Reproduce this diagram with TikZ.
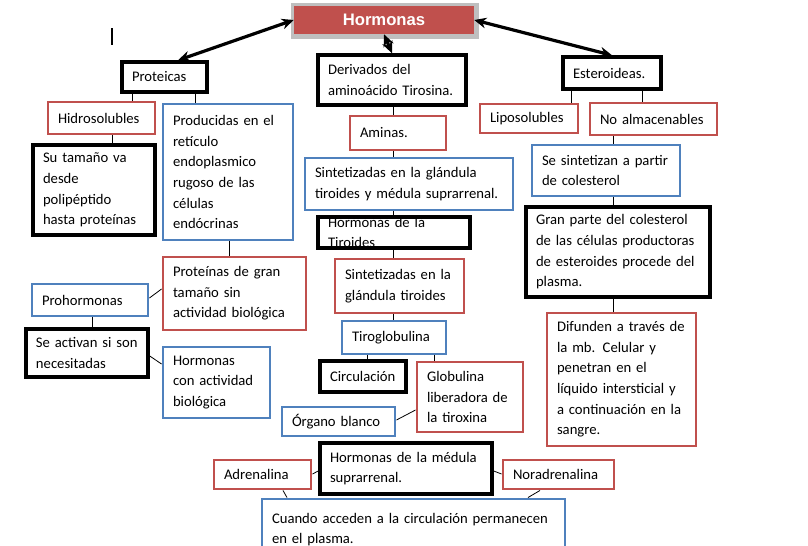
\documentclass[tikz,border=0pt]{standalone}
\usepackage{fontspec}
\setmainfont{Carlito}
\newfontfamily\arialb{Liberation Sans}
\usetikzlibrary{arrows.meta}
\definecolor{cred}{HTML}{C0504D}
\definecolor{cblue}{HTML}{4F81BD}
\tikzset{
  base/.style={fill=white, inner sep=0pt, align=left, font=\fontsize{11}{15.5}\selectfont},
  rbox/.style={base, draw=cred, line width=2.2pt},
  bbox/.style={base, draw=cblue, line width=2.2pt},
  kbox/.style={base, draw=black, line width=2.6pt},
  conn/.style={line width=0.6pt},
  big/.style={line width=2.4pt, {Stealth[length=9pt,width=8pt]}-{Stealth[length=9pt,width=8pt]}}
}
\newcommand\bx[7]{\node[#2, minimum width={(#5-#3)*0.75pt}, minimum height={(#6-#4)*0.75pt}, text width={(#5-#3-20)*0.75pt}] (#1) at ({(#3+#5)/2},{(#4+#6)/2}) {#7};}
\begin{document}
\begin{tikzpicture}[x=0.75pt,y=-0.75pt]
\clip (0,0) rectangle (808,546);
\fill[white] (0,0) rectangle (808,546);
% title
\fill[black!25] (291,3) rectangle (479,39);
\node[fill=cred, minimum width={180*0.75pt}, minimum height={28*0.75pt}, inner sep=0pt, text=white, font=\arialb\bfseries\fontsize{12.5}{14}\selectfont] (hor) at (384,20) {Hormonas};
\draw[line width=1.2pt] (112,28) -- (112,45);
% left
\bx{prot}{kbox}{122}{62}{207}{92}{Proteicas}
\bx{hidro}{rbox}{48}{102}{155}{134}{Hidrosolubles}
\bx{prod}{bbox}{163}{104}{293}{240}{Producidas en el\\retículo\\endoplasmico\\rugoso de las\\células\\endócrinas}
\bx{su}{kbox}{33}{145}{155}{235}{Su tamaño va\\desde\\polipéptido\\hasta proteínas}
\bx{pgt}{rbox}{163}{257}{306}{330}{Proteínas de gran\\tamaño sin\\actividad biológica}
\bx{proh}{bbox}{32}{284}{148}{316}{Prohormonas}
\bx{act}{kbox}{26}{329}{148}{377}{Se activan si son\\necesitadas}
\bx{hca}{bbox}{163}{347}{270}{418}{Hormonas\\con actividad\\biológica}
% middle
\bx{der}{kbox}{318}{55}{466}{105}{Derivados del\\aminoácido Tirosina.}
\bx{ami}{rbox}{350}{116}{446}{150}{Aminas.}
\bx{sgt}{bbox}{305}{158}{513}{210}{Sintetizadas en la glándula\\tiroides y médula suprarrenal.}
\bx{ht}{kbox}{318}{219}{470}{246}{Hormonas de la Tiroides}
\bx{sg}{rbox}{335}{259}{464}{313}{Sintetizadas en la\\glándula tiroides}
\bx{tir}{bbox}{342}{321}{446}{354}{Tiroglobulina}
\bx{cir}{kbox}{320}{361}{406}{392}{Circulación}
\bx{glo}{rbox}{417}{362}{523}{432}{Globulina\\liberadora de\\la tiroxina}
\bx{org}{bbox}{282}{407}{395}{436}{Órgano blanco}
\bx{hm}{kbox}{320}{443}{492}{494}{Hormonas de la médula\\suprarrenal.}
\bx{adr}{rbox}{214}{460}{311}{489}{Adrenalina}
\bx{nor}{rbox}{503}{460}{614}{489}{Noradrenalina}
\bx{cua}{bbox}{262}{499}{565}{560}{Cuando acceden a la circulación permanecen\\en el plasma.\\[4pt]}
% right
\bx{est}{kbox}{563}{57}{661}{89}{Esteroideas.}
\bx{lip}{rbox}{480}{104}{578}{133}{Liposolubles}
\bx{noa}{rbox}{590}{103}{717}{135}{No almacenables}
\bx{ses}{bbox}{532}{145}{680}{196}{Se sintetizan a partir\\de colesterol}
\bx{gp}{kbox}{526}{207}{710}{297}{Gran parte del colesterol\\de las células productoras\\de esteroides procede del\\plasma.}
\bx{dif}{rbox}{547}{313}{696}{446}{Difunden a través de\\la mb. Celular y\\penetran en el\\líquido intersticial y\\a continuación en la\\sangre.}
% arrows
\draw[big] (hor.west) -- (prot.north -| 178,0);
\draw[big] (hor.south) -- (der.north);
\draw[big] (hor.east) -- (est.north);
% connectors
\draw[conn] (prot.south -| 132,0) -- (hidro.north -| 132,0);
\draw[conn] (prot.south -| 195,0) -- (prod.north -| 195,0);
\draw[conn] (hidro.south -| 112,0) -- (su.north -| 112,0);
\draw[conn] (prod.south -| 229,0) -- (pgt.north -| 229,0);
\draw[conn] (proh.east |- 0,298) -- (pgt.west |- 0,289);
\draw[conn] (proh.south -| 92,0) -- (act.north -| 92,0);
\draw[conn] (act.east |- 0,356) -- (hca.west |- 0,364);
\draw[conn] (der.south -| 393,0) -- (ami.north -| 393,0);
\draw[conn] (ami.south -| 393,0) -- (sgt.north -| 393,0);
\draw[conn] (sgt.south -| 393,0) -- (ht.north -| 393,0);
\draw[conn] (ht.south -| 393,0) -- (sg.north -| 393,0);
\draw[conn] (sg.south -| 393,0) -- (tir.north -| 393,0);
\draw[conn] (tir.south -| 367,0) -- (cir.north -| 367,0);
\draw[conn] (tir.south -| 434,0) -- (glo.north -| 434,0);
\draw[conn] (org.east |- 0,420) -- (glo.west |- 0,410);
\draw[conn] (adr.east |- 0,474) -- (hm.west |- 0,471);
\draw[conn] (hm.east |- 0,471) -- (nor.west |- 0,474);
\draw[conn] (adr.south -| 283,0) -- (cua.north -| 287,0);
\draw[conn] (nor.south -| 540,0) -- (cua.north -| 528,0);
\draw[conn] (est.south -| 571,0) -- (lip.north -| 571,0);
\draw[conn] (est.south -| 642,0) -- (noa.north -| 642,0);
\draw[conn] (noa.south -| 613,0) -- (ses.north -| 613,0);
\draw[conn] (ses.south -| 613,0) -- (gp.north -| 613,0);
\draw[conn] (gp.south -| 613,0) -- (dif.north -| 613,0);
\end{tikzpicture}
\end{document}
